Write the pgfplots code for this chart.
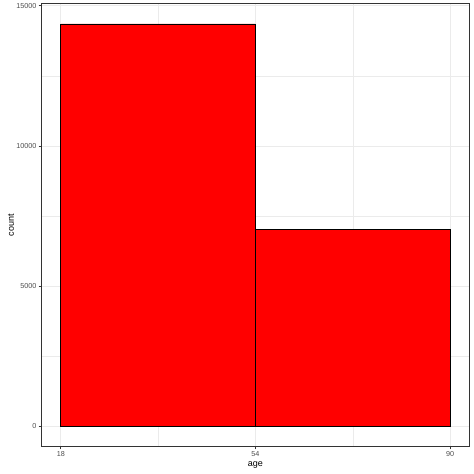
\documentclass[border=0pt]{standalone}
\usepackage{pgfplots}
\pgfplotsset{compat=1.18}
\usepackage{fontspec}
\setmainfont{Liberation Sans}
\definecolor{gridc}{HTML}{EBEBEB}
\definecolor{tickc}{HTML}{4D4D4D}
\definecolor{framec}{HTML}{333333}
\begin{document}
\begin{tikzpicture}
\begin{axis}[
  at={(0pt,0pt)}, anchor=south west,
  scale only axis,
  width=428.2pt, height=442.7pt,
  xmin=14.4, xmax=93.6,
  ymin=-717.5, ymax=15067.5,
  xtick={18,54,90},
  ytick={0,5000,10000,15000},
  minor xtick={36,72},
  minor ytick={2500,7500,12500},
  scaled y ticks=false,
  scaled x ticks=false,
  grid=both,
  major grid style={draw=gridc, line width=0.8pt},
  minor grid style={draw=gridc, line width=0.4pt},
  axis line style={draw=framec, line width=0.8pt},
  tick align=outside,
  major tick length=2.75pt,
  minor tick length=0pt,
  tick style={draw=framec, line width=0.8pt},
  xtick pos=bottom, ytick pos=left,
  /pgf/number format/assume math mode=true,
  /pgf/number format/1000 sep={},
  ticklabel style={font=\fontsize{7.2}{8}\selectfont, text=tickc},
  yticklabel style={inner sep=1pt, xshift=-1pt},
  xticklabel style={inner sep=1pt, yshift=-1pt},
  xlabel={age}, ylabel={count},
  label style={font=\fontsize{9}{10}\selectfont},
  xlabel style={at={(axis description cs:0.5,0)}, anchor=center, yshift=-18.5pt},
  ylabel style={at={(axis description cs:0,0.5)}, anchor=center, rotate=0, yshift=30.3pt},
]
\addplot[ybar interval, fill=red, draw=black, line width=0.6pt]
  coordinates {(18,14350) (54,7030) (90,7030)};
\end{axis}
\pgfresetboundingbox
\path[use as bounding box] (-41.3pt,-27.5pt) rectangle (432.7pt,446.5pt);
\end{tikzpicture}
\end{document}
